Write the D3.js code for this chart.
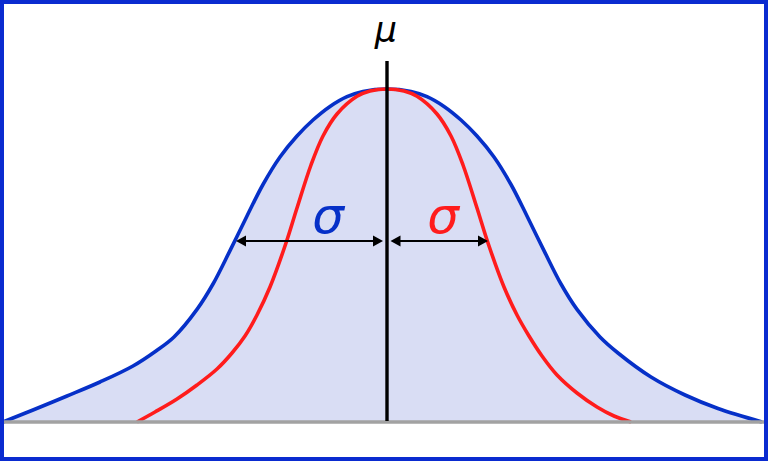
<!DOCTYPE html>
<html>
<head>
<meta charset="utf-8">
<script src="https://cdn.jsdelivr.net/npm/d3@7/dist/d3.min.js"></script>
<style>
  html, body { margin: 0; padding: 0; background: #fff; }
  svg { display: block; }
</style>
</head>
<body>
<svg id="chart" width="768" height="461"></svg>
<script>
// ---- data (x = offset from the mean, h = height above baseline) ----
const blueX = [-384, -354, -320, -287, -254, -231, -213, -190, -174, -157, -140, -124, -107, -90, -74, -57, -40, -24, 0,
               24, 40, 57, 74, 90, 107, 124, 140, 157, 174, 190, 213, 231, 264, 298, 331, 375];
const blueH = [0, 12, 26, 40, 56, 71, 85, 112.6, 138, 171.4, 206, 237.5, 265, 286, 302, 315.6, 325.4, 330.6, 333,
               330.6, 325.4, 315.6, 302, 286, 265, 237.5, 206, 171.4, 138, 112.6, 85, 69, 45, 27, 13.5, 0];

const redX = [-250, -232, -210, -190, -170, -155, -142, -130, -117, -101, -90, -76, -64, -50, -30, -17, 0,
              17, 30, 50, 64, 76, 90, 101, 117, 130, 142, 155, 170, 190, 210, 227, 244];
const redH = [0, 10, 23, 37, 53, 69, 86, 107, 135, 179, 214, 257, 286, 308, 325.7, 331, 333,
              331, 325.7, 308, 286, 257, 214, 179, 135, 107, 86, 66, 47, 29, 15, 6, 0];

const sigmaBlue = 151;   // half-width marked by the blue arrow (left side)
const sigmaRed = 101;    // half-width marked by the red arrow (right side)
const labels = { mu: "μ", sigma: "σ" };

const bluePts = blueX.map((x, i) => ({ x, h: blueH[i] }));
const redPts = redX.map((x, i) => ({ x, h: redH[i] }));

// ---- layout ----
const svg = d3.select("#chart");
const W = 768, H = 461;
const x = d3.scaleLinear().domain([-387, 381]).range([0, 768]);
const y = d3.scaleLinear().domain([0, 333]).range([422, 89]);

const BLUE = "#0630c8", RED = "#ff1c1c", FILL = "#d9ddf4", GREY = "#a2a2a2";

svg.append("rect").attr("x", 0).attr("y", 0).attr("width", W).attr("height", H).attr("fill", "#fff");

const curve = d3.curveCatmullRom.alpha(0.5);

// filled area under blue curve
svg.append("path")
  .datum(bluePts)
  .attr("d", d3.area().x(d => x(d.x)).y0(y(0)).y1(d => y(d.h)).curve(curve))
  .attr("fill", FILL);

// blue curve
svg.append("path")
  .datum(bluePts)
  .attr("d", d3.line().x(d => x(d.x)).y(d => y(d.h)).curve(curve))
  .attr("fill", "none").attr("stroke", BLUE).attr("stroke-width", 3.6);

// red curve
svg.append("path")
  .datum(redPts)
  .attr("d", d3.line().x(d => x(d.x)).y(d => y(d.h)).curve(curve))
  .attr("fill", "none").attr("stroke", RED).attr("stroke-width", 3.6);

// baseline
svg.append("line")
  .attr("x1", 3).attr("x2", W - 3)
  .attr("y1", y(0)).attr("y2", y(0))
  .attr("stroke", GREY).attr("stroke-width", 3.6);

// mean line
svg.append("line")
  .attr("x1", x(0)).attr("x2", x(0))
  .attr("y1", 61).attr("y2", y(0) - 1)
  .attr("stroke", "#000").attr("stroke-width", 3.4);

// double-headed arrows
const arrowLevel = 181;
function arrow(x0, x1) {
  const ay = y(arrowLevel), L = 10, Hh = 5.5;
  const g = svg.append("g");
  g.append("line").attr("x1", x0 + L - 1).attr("x2", x1 - L + 1).attr("y1", ay).attr("y2", ay)
    .attr("stroke", "#000").attr("stroke-width", 2);
  g.append("path").attr("d", `M${x0},${ay} L${x0 + L},${ay - Hh} L${x0 + L},${ay + Hh} Z`).attr("fill", "#000");
  g.append("path").attr("d", `M${x1},${ay} L${x1 - L},${ay - Hh} L${x1 - L},${ay + Hh} Z`).attr("fill", "#000");
}
arrow(x(-sigmaBlue), x(0) - 4);
arrow(x(0) + 3.5, x(sigmaRed));

// labels
svg.append("text")
  .attr("x", x(0) - 1).attr("y", 42)
  .attr("text-anchor", "middle")
  .attr("font-family", "DejaVu Sans, sans-serif").attr("font-style", "italic")
  .attr("font-size", 35).attr("fill", "#000")
  .text(labels.mu);

svg.append("text")
  .attr("x", x(-59)).attr("y", 233)
  .attr("text-anchor", "middle")
  .attr("font-family", "DejaVu Sans, sans-serif").attr("font-style", "italic")
  .attr("font-size", 50).attr("fill", BLUE)
  .text(labels.sigma);

svg.append("text")
  .attr("x", x(56)).attr("y", 233)
  .attr("text-anchor", "middle")
  .attr("font-family", "DejaVu Sans, sans-serif").attr("font-style", "italic")
  .attr("font-size", 50).attr("fill", RED)
  .text(labels.sigma);

// outer border
svg.append("rect")
  .attr("x", 2).attr("y", 2).attr("width", W - 4).attr("height", H - 4)
  .attr("fill", "none").attr("stroke", "#0a2bd0").attr("stroke-width", 4);
</script>
</body>
</html>
